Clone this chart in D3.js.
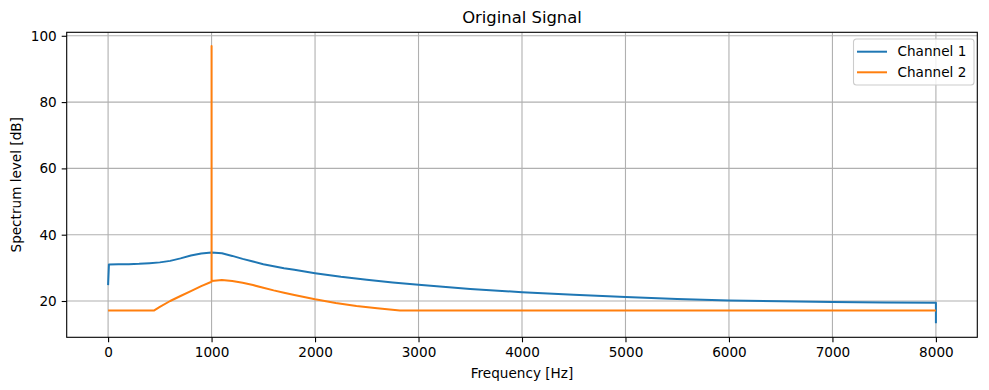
<!DOCTYPE html>
<html>
<head>
<meta charset="utf-8">
<script src="https://cdn.jsdelivr.net/npm/d3@7"></script>
<style>
  body { margin: 0; background: #fff; }
  svg text { font-family: "DejaVu Sans", sans-serif; fill: #000; }
</style>
</head>
<body>
<div id="chart"></div>
<script>
// values
const freq1 = [0, 8, 100, 200, 300, 400, 500, 600, 700, 800, 900, 1000, 1100, 1200, 1300, 1400, 1500,
               1600, 1700, 1800, 1900, 2000, 2250, 2500, 2750, 3000, 3500, 4000, 4500, 5000, 5500,
               6000, 6500, 7000, 7500, 8000, 8000];
const level1 = [24.8, 31.0, 31.05, 31.1, 31.2, 31.4, 31.65, 32.1, 32.85, 33.7, 34.35, 34.65, 34.4, 33.6, 32.7, 31.9, 31.1,
                30.5, 29.9, 29.4, 28.9, 28.4, 27.3, 26.4, 25.6, 24.9, 23.65, 22.65, 21.85, 21.2, 20.6,
                20.15, 19.9, 19.7, 19.55, 19.45, 13.3];

const freq2 = [0, 442, 500, 600, 700, 800, 900, 1000, 1000, 1000, 1100, 1200, 1300, 1400, 1500, 1600, 1700,
               1800, 2000, 2200, 2400, 2600, 2820, 8000];
const level2 = [17.1, 17.1, 18.25, 20.0, 21.5, 23.0, 24.5, 25.8, 96.9, 26.0, 26.3, 26.0, 25.5, 24.8, 24.0, 23.2, 22.5,
                21.8, 20.5, 19.4, 18.5, 17.8, 17.1, 17.1];

const xTicks = [0, 1000, 2000, 3000, 4000, 5000, 6000, 7000, 8000];
const yTicks = [20, 40, 60, 80, 100];
const seriesNames = ["Channel 1", "Channel 2"];
const colors = ["#1f77b4", "#ff7f0e"];

const W = 989, H = 390;
const margin = {top: 32.3, right: 11.7, bottom: 52.7, left: 66.7};
const iw = W - margin.left - margin.right;
const ih = H - margin.top - margin.bottom;

const svg = d3.select("#chart").append("svg")
    .attr("width", W)
    .attr("height", H);

const g = svg.append("g")
    .attr("transform", `translate(${margin.left},${margin.top})`);

const x = d3.scaleLinear().domain([-400, 8400]).range([0, iw]);
const y = d3.scaleLinear().domain([9.05, 101.05]).range([ih, 0]);

// grid
g.append("g").selectAll("line").data(xTicks).enter().append("line")
    .attr("x1", d => x(d)).attr("x2", d => x(d))
    .attr("y1", 0).attr("y2", ih)
    .attr("stroke", "#b0b0b0").attr("stroke-width", 1.1);
g.append("g").selectAll("line").data(yTicks).enter().append("line")
    .attr("y1", d => y(d)).attr("y2", d => y(d))
    .attr("x1", 0).attr("x2", iw)
    .attr("stroke", "#b0b0b0").attr("stroke-width", 1.1);

// lines
const line = d3.line().x(d => x(d[0])).y(d => y(d[1]));
const series = [d3.zip(freq1, level1), d3.zip(freq2, level2)];

g.selectAll(".series").data(series).enter().append("path")
    .attr("class", "series")
    .attr("d", line)
    .attr("fill", "none")
    .attr("stroke", (d, i) => colors[i])
    .attr("stroke-width", 2)
    .attr("stroke-linejoin", "round");

// axes
const xAxis = g.append("g")
    .attr("transform", `translate(0,${ih})`)
    .call(d3.axisBottom(x).tickValues(xTicks).tickFormat(d3.format("d"))
        .tickSize(5).tickPadding(5).tickSizeOuter(0));
const yAxis = g.append("g")
    .call(d3.axisLeft(y).tickValues(yTicks).tickFormat(d3.format("d"))
        .tickSize(5).tickPadding(5).tickSizeOuter(0));

[xAxis, yAxis].forEach(a => {
    a.select(".domain").remove();
    a.selectAll("text").attr("font-size", 13.6).attr("font-family", "DejaVu Sans").attr("fill", "#000");
    a.selectAll("line").attr("stroke", "#000").attr("stroke-width", 1.1);
});

// frame
g.append("rect")
    .attr("width", iw).attr("height", ih)
    .attr("fill", "none").attr("stroke", "#000").attr("stroke-width", 1.1);

// title and labels
svg.append("text")
    .attr("x", margin.left + iw / 2).attr("y", 22.5)
    .attr("text-anchor", "middle").attr("font-size", 16.4)
    .text("Original Signal");

svg.append("text")
    .attr("x", margin.left + iw / 2).attr("y", 377.5)
    .attr("text-anchor", "middle").attr("font-size", 13.6)
    .text("Frequency [Hz]");

svg.append("text")
    .attr("transform", `translate(21,${margin.top + ih / 2}) rotate(-90)`)
    .attr("text-anchor", "middle").attr("font-size", 13.6)
    .text("Spectrum level [dB]");

// legend
const legend = svg.append("g").attr("transform", "translate(853.5,39)");
legend.append("rect")
    .attr("width", 120.5).attr("height", 46)
    .attr("rx", 3).attr("ry", 3)
    .attr("fill", "#fff").attr("fill-opacity", 0.8)
    .attr("stroke", "#cccccc").attr("stroke-width", 1.1);

const items = legend.selectAll(".item").data(seriesNames).enter().append("g")
    .attr("class", "item")
    .attr("transform", (d, i) => `translate(0,${12.7 + i * 20.6})`);
items.append("line")
    .attr("x1", 3.5).attr("x2", 33.5)
    .attr("stroke", (d, i) => colors[i]).attr("stroke-width", 2);
items.append("text")
    .attr("x", 44).attr("dy", "0.35em")
    .attr("font-size", 13.6)
    .text(d => d);
</script>
</body>
</html>
